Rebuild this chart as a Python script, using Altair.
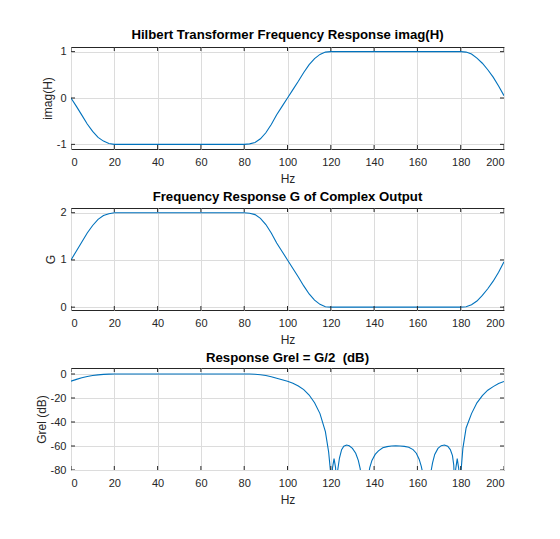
import altair as alt
import pandas as pd

# ---------------- data ----------------
freq = [0, 2.5, 5, 7.5, 10, 12.5, 15, 17.5, 20, 30, 40, 50, 60, 70, 80,
        82.5, 85, 87.5, 90, 92.5, 95, 97.5, 100, 102.5, 105, 107.5, 110,
        112.5, 115, 117.5, 120, 130, 140, 150, 160, 170, 180, 182.5, 185,
        187.5, 190, 192.5, 195, 197.5, 200]

imag_h = [0.0, -0.18, -0.37, -0.56, -0.72, -0.85, -0.93, -0.98, -1.0, -1.0,
          -1.0, -1.0, -1.0, -1.0, -1.0,
          -0.99, -0.96, -0.88, -0.75, -0.57, -0.36, -0.18, 0.0, 0.18, 0.36,
          0.55, 0.72, 0.85, 0.94, 0.99, 1.0, 1.0, 1.0, 1.0, 1.0, 1.0, 1.0,
          0.99, 0.95, 0.86, 0.75, 0.61, 0.45, 0.26, 0.05]

g_vals = [1.0, 1.19, 1.38, 1.57, 1.73, 1.86, 1.94, 1.98, 2.0, 2.0, 2.0, 2.0,
          2.0, 2.0, 2.0,
          1.99, 1.96, 1.88, 1.75, 1.57, 1.36, 1.18, 1.0, 0.82, 0.64, 0.45,
          0.28, 0.15, 0.06, 0.01, 0.0, 0.0, 0.0, 0.0, 0.0, 0.0, 0.0,
          0.01, 0.05, 0.13, 0.25, 0.39, 0.55, 0.74, 0.96]

freq_db = [0, 2.5, 5, 7.5, 10, 12.5, 15, 17.5, 20, 30, 40, 50, 60, 70, 80,
           82.5, 85, 87.5, 90, 92.5, 95, 97.5, 100, 102.5, 105, 107.5, 110,
           112.5, 115, 117.5, 119, 119.8, 120.3, 120.8, 121.5, 122.2, 122.7,
           123.2, 124, 125, 126, 127.3, 128.5, 130, 131.5, 132.7, 133.6,
           134.2, 136, 138, 139, 140.5, 142, 144, 146, 148, 150, 152, 154,
           156, 158, 159.5, 160.8, 161.8, 162.4, 164.5, 166.4, 167, 168,
           169.5, 171, 172.5, 174, 175.2, 176.2, 176.8, 177.2, 177.7, 178.4,
           179.1, 179.6, 180.2, 181, 182.5, 185, 187.5, 190, 192.5, 195,
           197.5, 200]

grel_db = [-6.0, -4.5, -3.2, -2.1, -1.3, -0.7, -0.3, -0.1, 0.0, 0.0, 0.0,
           0.0, 0.0, 0.0, 0.0,
           -0.05, -0.2, -0.6, -1.3, -2.3, -3.6, -4.8, -6.0, -7.7, -10.0,
           -13.0, -17.5, -24.0, -33.0, -48.0, -65.0, -80.0, -95.0, -78.0,
           -70.5, -78.0, -95.0,
           -80.0, -70.0, -63.0, -60.2, -59.2, -59.8, -62.0, -66.0, -72.0,
           -79.0, -95.0, -100.0, -78.0, -72.0, -67.0, -64.0, -61.5, -60.5,
           -60.0, -59.9, -60.0, -60.3, -61.0, -63.0, -66.0, -71.0, -77.0,
           -82.0, -100.0, -80.0, -74.0, -67.0, -62.0, -59.7, -59.2, -60.2,
           -63.0, -68.0, -76.0, -95.0, -79.0, -70.5, -79.0, -95.0, -80.0,
           -62.0, -45.0, -33.0, -24.0, -18.0, -13.5, -10.5, -8.0, -6.2]

x_ticks = [0, 20, 40, 60, 80, 100, 120, 140, 160, 180, 200]
y1_ticks = [-1, 0, 1]
y2_ticks = [0, 1, 2]
y3_ticks = [-80, -60, -40, -20, 0]

titles = ["Hilbert Transformer Frequency Response imag(H)",
          "Frequency Response G of Complex Output",
          "Response Grel = G/2 \u00a0(dB)"]
y_titles = ["imag(H)", "G", "Grel (dB)"]
y_domains = [[-1.1, 1.1], [-0.06, 2.1], [-80, 5]]

LINE = "#0072BD"
DARK = "#262626"
FONT = "Liberation Sans"
W, H = 433, 102


def panel(f, v, title, ytitle, ydom, yticks):
    df = pd.DataFrame({"f": f, "v": v})
    xs = alt.Scale(domain=[0, 200], nice=False, zero=False)
    ys = alt.Scale(domain=ydom, nice=False, zero=False)
    x_axis = alt.Axis(values=x_ticks, tickCount=30, title="Hz",
                      labelPadding=7, titlePadding=6,
                      labelExpr="'' + datum.value", labelOverlap=False)
    y_axis = alt.Axis(values=yticks, tickCount=30, title=ytitle,
                      labelPadding=5, titlePadding=2, labelOverlap=False,
                      labelExpr="'' + datum.value")
    line = alt.Chart(df).mark_line(color=LINE, strokeWidth=1.1, clip=True).encode(
        x=alt.X("f:Q", scale=xs, axis=x_axis),
        y=alt.Y("v:Q", scale=ys, axis=y_axis),
    )
    xt = pd.DataFrame({"f": x_ticks})
    yt = pd.DataFrame({"v": yticks})
    tick_kw = dict(size=8, thickness=1, color=DARK, clip=True, opacity=1)
    tb = alt.Chart(xt).mark_tick(orient="vertical", **tick_kw).encode(
        x=alt.X("f:Q", axis=x_axis), y=alt.datum(ydom[0]))
    tt = alt.Chart(xt).mark_tick(orient="vertical", **tick_kw).encode(
        x=alt.X("f:Q", axis=x_axis), y=alt.datum(ydom[1]))
    tl = alt.Chart(yt).mark_tick(orient="horizontal", **tick_kw).encode(
        y=alt.Y("v:Q", axis=y_axis), x=alt.datum(0))
    tr = alt.Chart(yt).mark_tick(orient="horizontal", **tick_kw).encode(
        y=alt.Y("v:Q", axis=y_axis), x=alt.datum(200))
    return alt.layer(line, tb, tt, tl, tr).properties(
        width=W, height=H,
        title=alt.TitleParams(title, fontSize=13.2, fontWeight="bold",
                              font=FONT, color="#000000", offset=3),
    )


p1 = panel(freq, imag_h, titles[0], y_titles[0], y_domains[0], y1_ticks)
p2 = panel(freq, g_vals, titles[1], y_titles[1], y_domains[1], y2_ticks)
p3 = panel(freq_db, grel_db, titles[2], y_titles[2], y_domains[2], y3_ticks)

chart = alt.vconcat(p1, p2, p3, spacing=4).properties(
    padding={"left": 26, "top": 19, "right": 5, "bottom": 5},
    background="white",
).configure_view(
    stroke=DARK, strokeWidth=1,
).configure_axis(
    domain=False, ticks=False, grid=True, gridColor="#dcdcdc", gridWidth=1,
    labelFont=FONT, labelFontSize=11, labelColor=DARK, labelOverlap=False,
    titleFont=FONT, titleFontSize=12, titleColor=DARK, titleFontWeight="normal",
).configure_title(anchor="middle")

chart.save("out.html", embed_options={"renderer": "svg", "actions": False})
